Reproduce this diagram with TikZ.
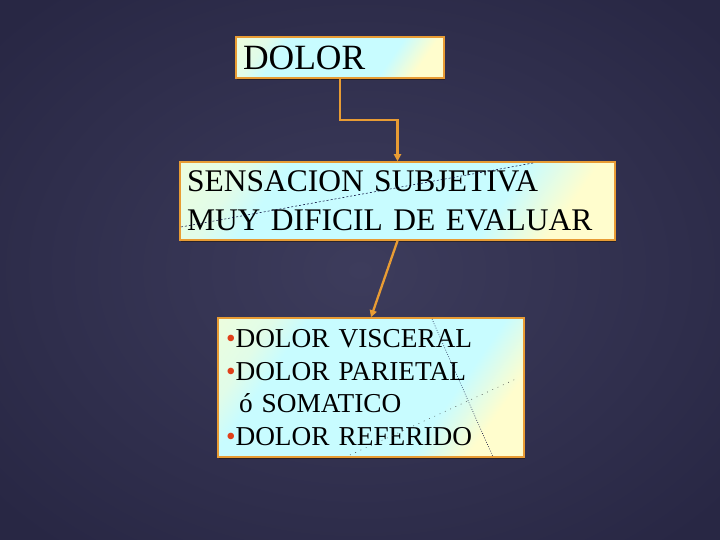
\documentclass[tikz,border=0pt]{standalone}
\usepackage{fontspec}
\setmainfont{Liberation Serif}
\usetikzlibrary{arrows.meta,shadows,calc}
\definecolor{bgout}{RGB}{40,39,68}
\definecolor{bgin}{RGB}{61,60,92}
\definecolor{boxcyan}{RGB}{200,252,255}
\definecolor{boxyel}{RGB}{255,253,205}
\definecolor{edgeor}{RGB}{232,156,52}
\definecolor{bred}{RGB}{224,64,26}
\pgfdeclarehorizontalshading{boxsh}{100bp}{color(0bp)=(boxyel); color(25bp)=(boxyel!45!boxcyan); color(31bp)=(boxcyan); color(65bp)=(boxcyan); color(75bp)=(boxyel); color(100bp)=(boxyel)}
\tikzset{
  box/.style={draw=edgeor, line width=1.5pt, shading=boxsh, shading angle=-35,
    drop shadow={shadow xshift=1.2pt, shadow yshift=-1.8pt, opacity=.6, fill=black!80!brown},
    inner xsep=0pt, inner ysep=0pt, align=left, text=black},
  arr/.style={draw=edgeor, line width=2.3pt, -{Triangle[length=7pt,width=7pt]}},
  deco/.style={line width=0.5pt, draw=black!80!blue, dash pattern=on 2pt off 2pt}
}
\begin{document}
\begin{tikzpicture}[x=1pt,y=-1pt]
\useasboundingbox (0,0) rectangle (720,540);
\shade[inner color=bgin, outer color=bgout] (-120,-90) rectangle (840,630);
\node[box, minimum width=208pt, minimum height=41pt, text width=194pt,
  font=\fontsize{35.5}{40}\selectfont] (b1) at (340,57.5) {DOLOR};
\node[box, minimum width=435pt, minimum height=78pt, text width=421pt,
  font=\fontsize{31.5}{39}\selectfont] (b2) at (397.5,201) {SENSACION SUBJETIVA\\MUY DIFICIL DE EVALUAR};
\node[box, minimum width=306pt, minimum height=139pt, text width=290pt,
  font=\fontsize{27.3}{32.5}\selectfont] (b3) at (371,387.5)
  {\textcolor{bred}{•}DOLOR VISCERAL\\\textcolor{bred}{•}DOLOR PARIETAL\\\hspace*{13pt}ó SOMATICO\\\textcolor{bred}{•}DOLOR REFERIDO};
\draw[arr] (b1.south) -- ++(0,41) -| (b2.north);
\draw[arr] (b2.south) -- (b3.north);
\coordinate (d1a) at (181,227);
\coordinate (d1b) at (533,163);
\coordinate (d2a) at (432,319);
\coordinate (d2b) at (493,457);
\coordinate (d3a) at (350,455);
\coordinate (d3b) at (518,378);
\draw[deco] (d1a) -- (d1b);
\draw[deco, dash pattern=on 0.8pt off 1.6pt] (d2a) -- (d2b);
\draw[deco, draw=black!60!gray, dash pattern=on 0.8pt off 5pt] (d3a) -- (d3b);
\end{tikzpicture}
\end{document}
